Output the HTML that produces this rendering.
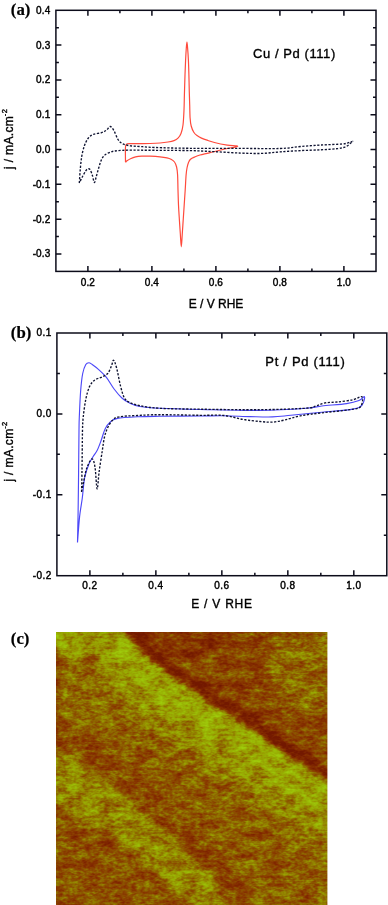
<!DOCTYPE html>
<html><head><meta charset="utf-8"><title>Figure</title>
<style>
html,body{margin:0;padding:0;background:#fff;}
body{width:388px;height:905px;overflow:hidden;}
svg{display:block;}
.tk{font-family:"Liberation Sans", Arial, Helvetica, sans-serif;font-size:10px;letter-spacing:0.1px;fill:#000;stroke:#000;stroke-width:0.42px;}
.tb{letter-spacing:0.45px;}
.al{font-family:"Liberation Sans", Arial, Helvetica, sans-serif;font-size:12px;fill:#000;stroke:#000;stroke-width:0.35px;}
.lg{font-family:"Liberation Sans", Arial, Helvetica, sans-serif;font-size:13px;fill:#000;letter-spacing:0.35px;stroke:#000;stroke-width:0.35px;}
.pl{font-family:"Liberation Serif", "Times New Roman", serif;font-size:16.8px;font-weight:bold;fill:#000;stroke:#000;stroke-width:0.2px;}
</style></head>
<body>
<svg width="388" height="905" viewBox="0 0 388 905">
<rect x="55.9" y="10.3" width="320.10" height="261.10" fill="none" stroke="#0c0c1a" stroke-width="1.5"/>
<path d="M87.90 271.40V265.90M87.90 10.30V15.80M119.90 271.40V268.40M119.90 10.30V13.30M151.90 271.40V265.90M151.90 10.30V15.80M183.90 271.40V268.40M183.90 10.30V13.30M215.90 271.40V265.90M215.90 10.30V15.80M247.90 271.40V268.40M247.90 10.30V13.30M279.90 271.40V265.90M279.90 10.30V15.80M311.90 271.40V268.40M311.90 10.30V13.30M343.90 271.40V265.90M343.90 10.30V15.80M55.90 27.70H58.90M376.00 27.70H373.00M55.90 45.11H61.40M376.00 45.11H370.50M55.90 62.52H58.90M376.00 62.52H373.00M55.90 79.92H61.40M376.00 79.92H370.50M55.90 97.33H58.90M376.00 97.33H373.00M55.90 114.73H61.40M376.00 114.73H370.50M55.90 132.14H58.90M376.00 132.14H373.00M55.90 149.54H61.40M376.00 149.54H370.50M55.90 166.95H58.90M376.00 166.95H373.00M55.90 184.35H61.40M376.00 184.35H370.50M55.90 201.76H58.90M376.00 201.76H373.00M55.90 219.16H61.40M376.00 219.16H370.50M55.90 236.57H58.90M376.00 236.57H373.00M55.90 253.97H61.40M376.00 253.97H370.50" stroke="#0c0c1a" stroke-width="1.5" fill="none"/>
<text x="50.3" y="13.80" text-anchor="end" class="tk">0.4</text>
<text x="50.3" y="48.61" text-anchor="end" class="tk">0.3</text>
<text x="50.3" y="83.42" text-anchor="end" class="tk">0.2</text>
<text x="50.3" y="118.23" text-anchor="end" class="tk">0.1</text>
<text x="50.3" y="153.04" text-anchor="end" class="tk">0.0</text>
<text x="50.3" y="187.85" text-anchor="end" class="tk">-0.1</text>
<text x="50.3" y="222.66" text-anchor="end" class="tk">-0.2</text>
<text x="50.3" y="257.47" text-anchor="end" class="tk">-0.3</text>
<text x="87.90" y="286.1" text-anchor="middle" class="tk">0.2</text>
<text x="151.90" y="286.1" text-anchor="middle" class="tk">0.4</text>
<text x="215.90" y="286.1" text-anchor="middle" class="tk">0.6</text>
<text x="279.90" y="286.1" text-anchor="middle" class="tk">0.8</text>
<text x="343.90" y="286.1" text-anchor="middle" class="tk">1.0</text>
<text x="216" y="308" text-anchor="middle" class="al">E / V RHE</text>
<text transform="translate(13.4 138.9) rotate(-90)" text-anchor="middle" class="al" style="letter-spacing:0.35px">j / mA.cm<tspan dy="-6" dx="-0.3" font-size="7.5">-2</tspan></text>
<text x="10.8" y="14.6" class="pl">(a)</text>
<text x="253" y="58.3" class="lg" style="letter-spacing:0.57px">Cu / Pd (111)</text>
<path d="M125.50 162.30 C125.48 160.25 125.37 152.78 125.40 150.00 C125.43 147.22 125.40 146.63 125.70 145.60 C126.00 144.57 126.32 144.13 127.20 143.80 C128.08 143.47 128.87 143.63 131.00 143.60 C133.13 143.57 136.83 143.62 140.00 143.60 C143.17 143.58 146.67 143.60 150.00 143.50 C153.33 143.40 157.00 143.25 160.00 143.00 C163.00 142.75 165.67 142.40 168.00 142.00 C170.33 141.60 172.33 141.23 174.00 140.60 C175.67 139.97 176.83 139.38 178.00 138.20 C179.17 137.02 180.17 135.70 181.00 133.50 C181.83 131.30 182.50 128.92 183.00 125.00 C183.50 121.08 183.77 115.00 184.00 110.00 C184.23 105.00 184.23 100.83 184.40 95.00 C184.57 89.17 184.80 80.83 185.00 75.00 C185.20 69.17 185.38 64.50 185.60 60.00 C185.82 55.50 186.08 50.97 186.30 48.00 C186.53 45.03 186.73 42.20 186.95 42.20 C187.17 42.20 187.36 45.03 187.60 48.00 C187.84 50.97 188.18 55.50 188.40 60.00 C188.62 64.50 188.75 69.67 188.90 75.00 C189.05 80.33 189.17 87.00 189.30 92.00 C189.43 97.00 189.57 100.67 189.70 105.00 C189.83 109.33 189.85 114.50 190.10 118.00 C190.35 121.50 190.58 123.63 191.20 126.00 C191.82 128.37 192.83 130.60 193.80 132.20 C194.77 133.80 195.72 134.62 197.00 135.60 C198.28 136.58 199.67 137.28 201.50 138.10 C203.33 138.92 205.85 139.77 208.00 140.50 C210.15 141.23 211.18 141.73 214.40 142.50 C217.62 143.27 223.43 144.45 227.30 145.10 C231.17 145.75 238.03 145.75 237.60 146.40 C237.17 147.05 229.42 147.93 224.70 149.00 C219.98 150.07 213.42 151.80 209.30 152.80 C205.18 153.80 202.37 154.33 200.00 155.00 C197.63 155.67 196.68 156.10 195.10 156.80 C193.52 157.50 191.60 158.25 190.50 159.20 C189.40 160.15 189.08 161.03 188.50 162.50 C187.92 163.97 187.40 165.92 187.00 168.00 C186.60 170.08 186.40 171.33 186.10 175.00 C185.80 178.67 185.52 185.00 185.20 190.00 C184.88 195.00 184.53 200.00 184.20 205.00 C183.87 210.00 183.53 215.00 183.20 220.00 C182.87 225.00 182.52 230.53 182.20 235.00 C181.88 239.47 181.60 246.80 181.30 246.80 C181.00 246.80 180.72 239.47 180.40 235.00 C180.08 230.53 179.72 225.00 179.40 220.00 C179.08 215.00 178.73 210.00 178.50 205.00 C178.27 200.00 178.15 195.00 178.00 190.00 C177.85 185.00 177.83 178.83 177.60 175.00 C177.37 171.17 177.12 169.17 176.60 167.00 C176.08 164.83 175.43 163.28 174.50 162.00 C173.57 160.72 172.25 159.98 171.00 159.30 C169.75 158.62 168.83 158.32 167.00 157.90 C165.17 157.48 162.83 157.08 160.00 156.80 C157.17 156.52 153.03 156.30 150.00 156.20 C146.97 156.10 144.20 156.08 141.80 156.20 C139.40 156.32 137.48 156.48 135.60 156.90 C133.72 157.32 131.93 158.05 130.50 158.70 C129.07 159.35 127.83 160.20 127.00 160.80 C126.17 161.40 125.75 162.05 125.50 162.30" fill="none" stroke="#ff4a3c" stroke-width="1.2" stroke-linejoin="round"/>
<path d="M79.30 183.00 C79.48 180.50 79.98 172.50 80.40 168.00 C80.82 163.50 81.12 159.75 81.80 156.00 C82.48 152.25 83.40 148.50 84.50 145.50 C85.60 142.50 86.90 139.87 88.40 138.00 C89.90 136.13 91.37 135.17 93.50 134.30 C95.63 133.43 99.05 133.48 101.20 132.80 C103.35 132.12 104.88 131.25 106.40 130.20 C107.92 129.15 109.02 126.37 110.30 126.50 C111.58 126.63 112.82 128.83 114.10 131.00 C115.38 133.17 116.70 137.43 118.00 139.50 C119.30 141.57 120.65 142.52 121.90 143.40 C123.15 144.28 124.07 144.40 125.50 144.80 C126.93 145.20 128.08 145.52 130.50 145.80 C132.92 146.08 135.92 146.22 140.00 146.50 C144.08 146.78 146.67 147.20 155.00 147.50 C163.33 147.80 175.83 148.15 190.00 148.30 C204.17 148.45 225.00 148.37 240.00 148.40 C255.00 148.43 269.90 148.82 280.00 148.50 C290.10 148.18 293.73 147.08 300.60 146.50 C307.47 145.92 314.32 145.42 321.20 145.00 C328.08 144.58 337.43 144.37 341.90 144.00 C346.37 143.63 346.22 143.25 348.00 142.80 C349.78 142.35 352.08 141.30 352.60 141.30 C353.12 141.30 352.20 141.93 351.10 142.80 C350.00 143.67 348.23 145.53 346.00 146.50 C343.77 147.47 341.83 148.05 337.70 148.60 C333.57 149.15 327.38 149.47 321.20 149.80 C315.02 150.13 307.47 150.25 300.60 150.60 C293.73 150.95 286.43 151.43 280.00 151.90 C273.57 152.37 268.42 153.20 262.00 153.40 C255.58 153.60 249.33 153.38 241.50 153.10 C233.67 152.82 223.58 152.12 215.00 151.70 C206.42 151.28 200.00 150.83 190.00 150.60 C180.00 150.37 165.50 150.37 155.00 150.30 C144.50 150.23 133.67 150.08 127.00 150.20 C120.33 150.32 117.67 150.70 115.00 151.00 C112.33 151.30 112.58 151.42 111.00 152.00 C109.42 152.58 107.03 153.33 105.50 154.50 C103.97 155.67 102.88 156.92 101.80 159.00 C100.72 161.08 99.92 164.08 99.00 167.00 C98.08 169.92 97.07 173.92 96.30 176.50 C95.53 179.08 95.05 182.67 94.40 182.50 C93.75 182.33 93.13 177.67 92.40 175.50 C91.67 173.33 90.80 170.58 90.00 169.50 C89.20 168.42 88.35 168.72 87.60 169.00 C86.85 169.28 86.43 169.78 85.50 171.20 C84.57 172.62 83.03 175.53 82.00 177.50 C80.97 179.47 79.75 182.08 79.30 183.00" fill="none" stroke="#0e1230" stroke-width="1.35" stroke-dasharray="2.2 1.55"/>
<rect x="56.9" y="333.0" width="329.90" height="242.70" fill="none" stroke="#0c0c1a" stroke-width="1.5"/>
<path d="M89.89 575.70V570.20M89.89 333.00V338.50M122.88 575.70V572.70M122.88 333.00V336.00M155.87 575.70V570.20M155.87 333.00V338.50M188.86 575.70V572.70M188.86 333.00V336.00M221.85 575.70V570.20M221.85 333.00V338.50M254.84 575.70V572.70M254.84 333.00V336.00M287.83 575.70V570.20M287.83 333.00V338.50M320.82 575.70V572.70M320.82 333.00V336.00M353.81 575.70V570.20M353.81 333.00V338.50M56.90 373.45H59.90M386.80 373.45H383.80M56.90 413.90H62.40M386.80 413.90H381.30M56.90 454.35H59.90M386.80 454.35H383.80M56.90 494.80H62.40M386.80 494.80H381.30M56.90 535.25H59.90M386.80 535.25H383.80" stroke="#0c0c1a" stroke-width="1.5" fill="none"/>
<text x="51.8" y="336.00" text-anchor="end" class="tk tb">0.1</text>
<text x="51.8" y="416.90" text-anchor="end" class="tk tb">0.0</text>
<text x="51.8" y="497.80" text-anchor="end" class="tk tb">-0.1</text>
<text x="51.8" y="578.70" text-anchor="end" class="tk tb">-0.2</text>
<text x="89.89" y="589.4" text-anchor="middle" class="tk tb">0.2</text>
<text x="155.87" y="589.4" text-anchor="middle" class="tk tb">0.4</text>
<text x="221.85" y="589.4" text-anchor="middle" class="tk tb">0.6</text>
<text x="287.83" y="589.4" text-anchor="middle" class="tk tb">0.8</text>
<text x="353.81" y="589.4" text-anchor="middle" class="tk tb">1.0</text>
<text x="222" y="607.6" text-anchor="middle" class="al" style="letter-spacing:0.75px">E / V RHE</text>
<text transform="translate(13.4 451.5) rotate(-90)" text-anchor="middle" class="al" style="letter-spacing:0.35px">j / mA.cm<tspan dy="-6" dx="-0.3" font-size="7.5">-2</tspan></text>
<text x="10.8" y="337.8" class="pl">(b)</text>
<text x="265.3" y="366" class="lg" style="letter-spacing:0.7px">Pt / Pd (111)</text>
<path d="M77.50 542.40 C77.60 537.42 77.92 524.37 78.10 512.50 C78.28 500.63 78.45 484.95 78.60 471.20 C78.75 457.45 78.88 438.98 79.00 430.00 C79.12 421.02 79.03 423.72 79.30 417.30 C79.57 410.88 80.03 398.80 80.60 391.50 C81.17 384.20 81.83 378.00 82.70 373.50 C83.57 369.00 84.77 366.30 85.80 364.50 C86.83 362.70 87.83 362.70 88.90 362.70 C89.97 362.70 90.57 363.35 92.20 364.50 C93.83 365.65 96.33 367.45 98.70 369.60 C101.07 371.75 103.83 374.17 106.40 377.40 C108.97 380.63 111.52 385.57 114.10 389.00 C116.68 392.43 119.32 395.65 121.90 398.00 C124.48 400.35 126.60 401.68 129.60 403.10 C132.60 404.52 134.83 405.63 139.90 406.50 C144.97 407.37 149.98 407.80 160.00 408.30 C170.02 408.80 183.33 409.15 200.00 409.50 C216.67 409.85 242.27 410.62 260.00 410.40 C277.73 410.18 296.08 408.93 306.40 408.20 C316.72 407.47 315.20 406.77 321.90 406.00 C328.60 405.23 340.42 404.52 346.60 403.60 C352.78 402.68 356.02 401.63 359.00 400.50 C361.98 399.37 364.00 396.03 364.50 396.80 C365.00 397.57 363.95 403.05 362.00 405.10 C360.05 407.15 359.48 407.92 352.80 409.10 C346.12 410.28 332.22 411.17 321.90 412.20 C311.58 413.23 299.15 414.52 290.90 415.30 C282.65 416.08 279.22 416.68 272.40 416.90 C265.58 417.12 258.07 416.78 250.00 416.60 C241.93 416.42 232.33 415.90 224.00 415.80 C215.67 415.70 210.67 415.92 200.00 416.00 C189.33 416.08 170.45 416.17 160.00 416.30 C149.55 416.43 144.52 416.42 137.30 416.80 C130.08 417.18 121.20 417.73 116.70 418.60 C112.20 419.47 112.23 420.28 110.30 422.00 C108.37 423.72 106.62 425.85 105.10 428.90 C103.58 431.95 102.53 436.68 101.20 440.30 C99.87 443.92 98.47 447.85 97.10 450.60 C95.73 453.35 94.37 454.57 93.00 456.80 C91.63 459.03 90.28 460.57 88.90 464.00 C87.52 467.43 85.80 471.73 84.70 477.40 C83.60 483.07 83.15 491.47 82.30 498.00 C81.45 504.53 80.40 509.20 79.60 516.60 C78.80 524.00 77.85 538.10 77.50 542.40" fill="none" stroke="#4c48f8" stroke-width="1.15" stroke-linejoin="round"/>
<path d="M81.60 491.90 C81.67 488.25 81.88 477.82 82.00 470.00 C82.12 462.18 82.22 451.67 82.30 445.00 C82.38 438.33 82.35 434.62 82.50 430.00 C82.65 425.38 82.65 422.42 83.20 417.30 C83.75 412.18 84.73 404.45 85.80 399.30 C86.87 394.15 88.10 389.62 89.60 386.40 C91.10 383.18 92.87 381.50 94.80 380.00 C96.73 378.50 99.05 378.48 101.20 377.40 C103.35 376.32 105.98 375.43 107.70 373.50 C109.42 371.57 110.52 368.00 111.50 365.80 C112.48 363.60 112.73 359.87 113.60 360.30 C114.47 360.73 115.53 364.05 116.70 368.40 C117.87 372.75 119.32 381.47 120.60 386.40 C121.88 391.33 122.90 395.33 124.40 398.00 C125.90 400.67 127.02 401.12 129.60 402.40 C132.18 403.68 134.83 404.72 139.90 405.70 C144.97 406.68 149.98 407.72 160.00 408.30 C170.02 408.88 183.33 408.97 200.00 409.20 C216.67 409.43 242.27 409.87 260.00 409.70 C277.73 409.53 297.12 408.82 306.40 408.20 C315.68 407.58 312.60 406.88 315.70 406.00 C318.80 405.12 321.40 403.57 325.00 402.90 C328.60 402.23 332.67 402.52 337.30 402.00 C341.93 401.48 348.68 400.67 352.80 399.80 C356.92 398.93 360.72 395.65 362.00 396.80 C363.28 397.95 362.55 404.55 360.50 406.70 C358.45 408.85 356.13 408.68 349.70 409.70 C343.27 410.72 330.15 411.77 321.90 412.80 C313.65 413.83 306.40 414.70 300.20 415.90 C294.00 417.10 289.33 418.97 284.70 420.00 C280.07 421.03 276.52 421.85 272.40 422.10 C268.28 422.35 264.93 421.95 260.00 421.50 C255.07 421.05 248.80 420.40 242.80 419.40 C236.80 418.40 231.13 416.18 224.00 415.50 C216.87 414.82 210.67 415.43 200.00 415.30 C189.33 415.17 170.45 414.67 160.00 414.70 C149.55 414.73 144.08 415.15 137.30 415.50 C130.52 415.85 123.38 416.07 119.30 416.80 C115.22 417.53 114.73 418.10 112.80 419.90 C110.87 421.70 109.08 424.75 107.70 427.60 C106.32 430.45 105.40 433.17 104.50 437.00 C103.60 440.83 103.18 444.90 102.30 450.60 C101.42 456.30 100.07 464.83 99.20 471.20 C98.33 477.57 97.80 489.48 97.10 488.80 C96.40 488.12 95.85 472.08 95.00 467.10 C94.15 462.12 93.37 458.73 92.00 458.90 C90.63 459.07 88.18 464.33 86.80 468.10 C85.42 471.87 84.57 477.53 83.70 481.50 C82.83 485.47 81.95 490.17 81.60 491.90" fill="none" stroke="#0e1230" stroke-width="1.35" stroke-dasharray="2.2 1.55"/>
<text x="10.8" y="644.2" class="pl">(c)</text>
<defs>
<clipPath id="stmclip"><rect x="56.0" y="632.0" width="271.4" height="273.0"/></clipPath>
<filter id="stmf" x="16.0" y="592.0" width="351.4" height="353.0" filterUnits="userSpaceOnUse" color-interpolation-filters="sRGB">
<feGaussianBlur in="SourceGraphic" stdDeviation="3.0" result="b"/>
<feTurbulence type="fractalNoise" baseFrequency="0.06 0.1" numOctaves="3" seed="11" result="t"/>
<feColorMatrix in="t" type="matrix" values="1 0 0 0 0  1 0 0 0 0  1 0 0 0 0  0 0 0 0 1" result="n"/>
<feComposite in="b" in2="n" operator="arithmetic" k1="0" k2="1" k3="0.6" k4="-0.300" result="s0"/>
<feTurbulence type="fractalNoise" baseFrequency="0.22 0.38" numOctaves="2" seed="5" result="t2"/>
<feColorMatrix in="t2" type="matrix" values="1 0 0 0 0  1 0 0 0 0  1 0 0 0 0  0 0 0 0 1" result="n2"/>
<feComposite in="s0" in2="n2" operator="arithmetic" k1="0" k2="1" k3="0.5" k4="-0.250" result="s1"/>
<feTurbulence type="fractalNoise" baseFrequency="0.012 0.7" numOctaves="1" seed="9" result="t3"/>
<feColorMatrix in="t3" type="matrix" values="1 0 0 0 0  1 0 0 0 0  1 0 0 0 0  0 0 0 0 1" result="n3"/>
<feComposite in="s1" in2="n3" operator="arithmetic" k1="0" k2="1" k3="0.12" k4="-0.060" result="s"/>
<feComponentTransfer in="s">
<feFuncR type="table" tableValues="0.451 0.490 0.518 0.541 0.549 0.561 0.580 0.596 0.600 0.612 0.627"/>
<feFuncG type="table" tableValues="0.098 0.137 0.176 0.243 0.322 0.424 0.529 0.627 0.698 0.753 0.804"/>
<feFuncB type="table" tableValues="0.000 0.000 0.000 0.000 0.000 0.000 0.000 0.008 0.016 0.031 0.047"/>
</feComponentTransfer>
</filter>
</defs>
<g clip-path="url(#stmclip)"><g filter="url(#stmf)"><rect x="26.0" y="602.0" width="331.4" height="333.0" fill="#6e6e6e"/><polygon points="110.0,623.0 124.2,632.8 144.0,652.7 166.7,672.5 195.0,690.5 223.4,711.4 251.7,729.4 280.0,750.2 308.4,767.7 325.4,779.0 345.0,792.0 345.0,600.0 110.0,600.0" fill="#545454"/><ellipse cx="160" cy="630" rx="70" ry="30" fill="#3b3b3b" fill-opacity="0.9"/><ellipse cx="318" cy="665" rx="50" ry="48" fill="#808080" fill-opacity="0.85"/><polygon points="110.0,623.0 124.2,632.8 144.0,652.7 166.7,672.5 195.0,690.5 223.4,711.4 251.7,729.4 280.0,750.2 308.4,767.7 325.4,779.0 345.0,792.0 349.0,781.0 329.4,768.0 312.4,756.7 284.0,739.2 255.7,718.4 227.4,700.4 199.0,679.5 170.7,661.5 148.0,641.7 128.2,621.8 114.0,612.0" fill="#0f0f0f"/><polygon points="96.0,673.0 110.2,682.8 130.0,702.7 152.7,722.5 181.0,740.5 209.4,761.4 237.7,779.4 266.0,800.2 294.4,817.7 311.4,829.0 331.0,842.0 325.0,858.0 305.4,845.0 288.4,833.7 260.0,816.2 231.7,795.4 203.4,777.4 175.0,756.5 146.7,738.5 124.0,718.7 104.2,698.8 90.0,689.0" fill="#808080"/><polygon points="101.0,655.0 115.2,664.8 135.0,684.7 157.7,704.5 186.0,722.5 214.4,743.4 242.7,761.4 271.0,782.2 299.4,799.7 316.4,811.0 336.0,824.0 331.0,842.0 311.4,829.0 294.4,817.7 266.0,800.2 237.7,779.4 209.4,761.4 181.0,740.5 152.7,722.5 130.0,702.7 110.2,682.8 96.0,673.0" fill="#9e9e9e"/><polygon points="110.0,623.0 124.2,632.8 144.0,652.7 166.7,672.5 195.0,690.5 223.4,711.4 251.7,729.4 280.0,750.2 308.4,767.7 325.4,779.0 345.0,792.0 336.0,824.0 316.4,811.0 299.4,799.7 271.0,782.2 242.7,761.4 214.4,743.4 186.0,722.5 157.7,704.5 135.0,684.7 115.2,664.8 101.0,655.0" fill="#bababa"/><polygon points="40.0,610.0 124.0,610.0 124.2,632.8 110.0,650.0 40.0,662.0" fill="#adadad"/><ellipse cx="75" cy="700" rx="35" ry="40" fill="#828282" fill-opacity="0.8"/><polygon points="44.0,708.0 60.0,718.0 86.0,734.0 112.0,750.0 140.0,775.0 176.0,810.0 212.0,844.0 237.0,875.0 249.0,888.0 245.0,918.0 233.0,905.0 208.0,874.0 172.0,840.0 136.0,805.0 108.0,780.0 82.0,764.0 56.0,748.0 40.0,738.0" fill="#595959"/><polygon points="40.0,738.0 56.0,748.0 82.0,764.0 108.0,780.0 136.0,805.0 172.0,840.0 208.0,874.0 233.0,905.0 245.0,918.0 200.0,915.0 190.0,905.0 170.0,886.0 141.0,860.0 108.0,832.0 82.0,819.0 56.0,806.0 40.0,797.0" fill="#969696"/><polygon points="40.0,797.0 56.0,806.0 82.0,819.0 108.0,832.0 141.0,860.0 170.0,886.0 190.0,905.0 200.0,915.0 190.0,940.0 30.0,940.0 30.0,799.0" fill="#636363"/><rect x="40" y="645" width="19" height="100" fill="#424242" fill-opacity="0.8"/></g></g>
</svg>
</body></html>
